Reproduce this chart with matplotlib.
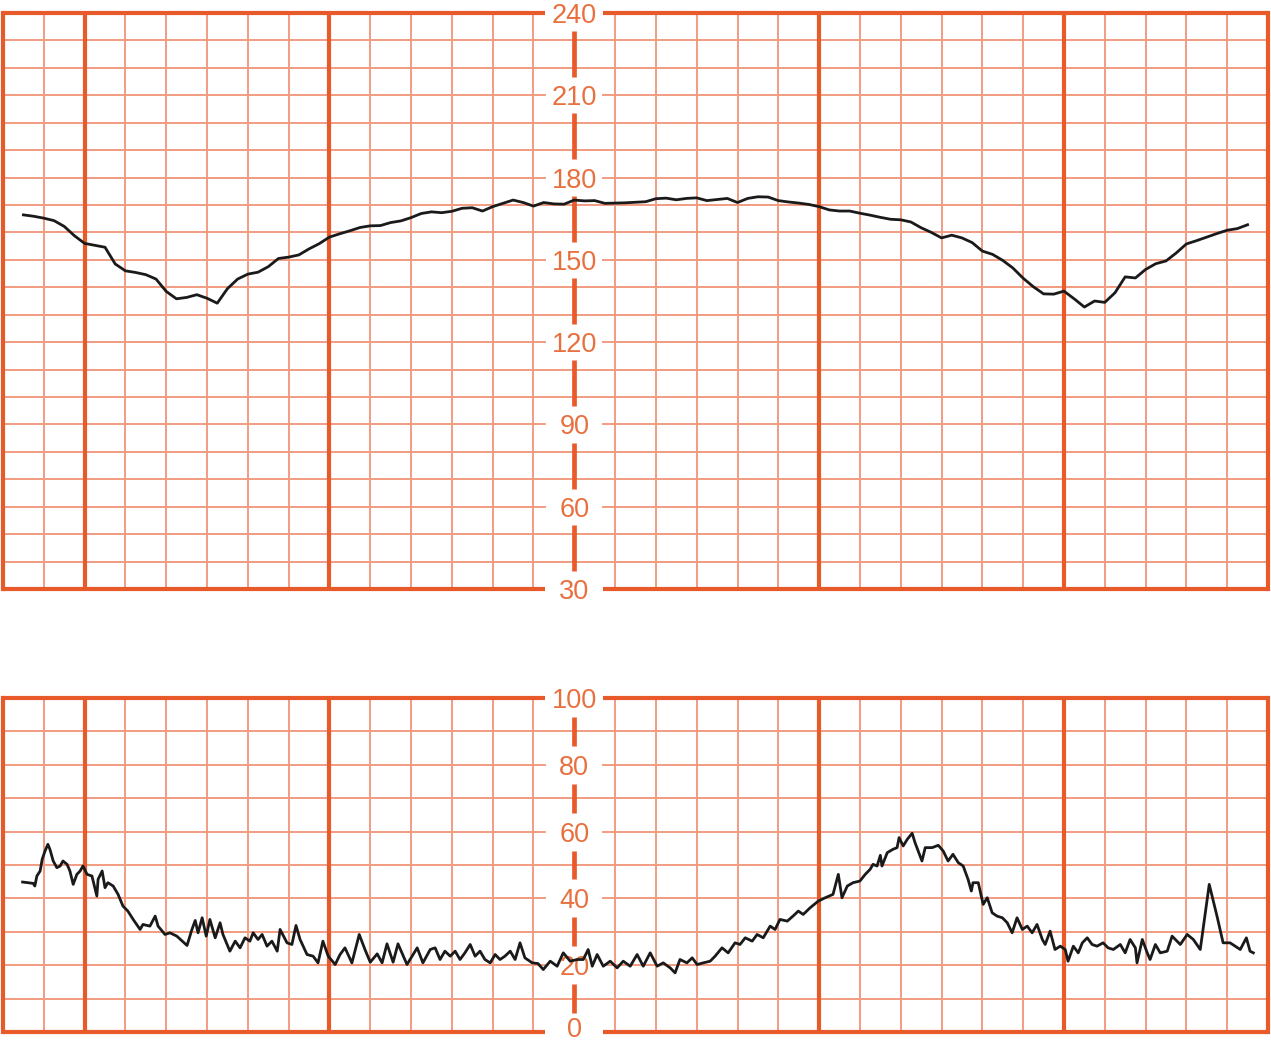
import numpy as np
import matplotlib
matplotlib.use("Agg")
import matplotlib.pyplot as plt

plt.rcParams['font.family'] = ['Liberation Sans', 'DejaVu Sans']

# paper: 10 s per small cell, 31 cells wide
t_max = 310
heavy_x = [20, 80, 200, 260]
label_x = 140
label_half_w = 7.1   # horizontal gap left around a scale label (s)

fhr_ticks = [30, 60, 90, 120, 150, 180, 210, 240]
uc_ticks = [0, 20, 40, 60, 80, 100]

# fetal heart rate (bpm), sampled every 2.5 s from t = 5 s
fhr_start, fhr_step = 5.0, 2.5
fhr = [166.4, 165.9, 165.2, 164.3, 162.2, 158.8, 156.0, 155.3, 154.6, 148.5,
       146.0, 145.4, 144.6, 143.0, 138.5, 135.8, 136.3, 137.3, 136.0, 134.2,
       139.5, 143.0, 144.8, 145.5, 147.5, 150.5, 151.0, 151.8, 154.0, 155.9,
       158.3, 159.5, 160.6, 161.8, 162.4, 162.5, 163.6, 164.2, 165.4, 166.9,
       167.5, 167.2, 167.7, 168.8, 169.0, 167.8, 169.4, 170.6, 171.8, 170.9,
       169.6, 170.9, 170.4, 170.3, 171.8, 171.5, 171.6, 170.6, 170.7, 170.8,
       171.0, 171.2, 172.3, 172.5, 171.9, 172.4, 172.6, 171.6, 172.0, 172.4,
       170.9, 172.4, 173.0, 172.9, 171.6, 171.1, 170.7, 170.2, 169.4, 168.2,
       167.8, 167.8, 167.0, 166.3, 165.5, 164.8, 164.6, 163.8, 161.7, 160.0,
       158.0, 159.0, 158.0, 156.3, 153.2, 152.0, 149.8, 147.0, 143.3, 140.2,
       137.6, 137.5, 138.6, 135.8, 132.8, 135.0, 134.5, 138.0, 143.8, 143.4,
       146.5, 148.6, 149.6, 152.5, 155.8, 157.0, 158.3, 159.6, 160.8, 161.4,
       162.8]

# uterine activity, time (s) and value
uc_t = [4.8, 6.1, 7.4, 7.8, 8.3, 9.1, 9.6, 10.3, 11.0, 11.5, 12.3, 13.2, 14.0,
        14.7, 15.7, 16.4, 17.2, 18.1, 18.9, 19.6, 20.6, 21.8, 23.0, 23.3, 24.3,
        25.0, 25.7, 27.0, 28.2, 29.4, 30.6, 31.9, 33.6, 34.3, 36.0, 37.3, 38.0,
        39.7, 40.9, 42.6, 45.1, 46.3, 47.1, 47.8, 48.8, 49.8, 50.7, 52.0, 53.2,
        53.9, 55.6, 56.9, 58.1, 59.3, 60.5, 61.3, 62.5, 63.5, 64.7, 65.9, 67.2,
        67.9, 69.6, 70.8, 71.8, 72.8, 74.5, 76.0, 77.2, 78.4, 79.7, 81.4, 82.6,
        83.8, 85.5, 87.3, 88.7, 90.0, 91.7, 92.9, 94.1, 95.6, 96.8, 99.0, 101.5,
        102.9, 104.7, 105.9, 107.1, 108.3, 109.6, 110.8, 112.0, 113.2, 114.5,
        115.7, 116.9, 118.1, 119.4, 120.6, 121.8, 123.0, 124.3, 125.5, 126.7,
        127.9, 129.7, 131.1, 132.4, 134.1, 135.8, 137.3, 139.0, 140.7, 142.2,
        143.4, 144.4, 145.6, 147.1, 148.8, 150.5, 152.0, 153.7, 155.4, 156.9,
        158.6, 160.3, 161.8, 163.5, 164.7, 165.9, 167.6, 168.9, 170.1, 171.6,
        173.3, 174.5, 176.2, 177.7, 179.4, 180.6, 181.9, 183.6, 184.8, 186.3,
        188.0, 189.2, 190.4, 192.2, 193.6, 194.9, 196.1, 197.8, 199.8, 201.5,
        203.4, 204.7, 205.6, 206.9, 208.3, 210.0, 211.3, 212.5, 213.2, 214.2,
        215.0, 215.4, 216.7, 218.1, 219.1, 219.6, 220.6, 221.6, 222.8, 223.5,
        225.2, 226.0, 227.7, 229.2, 230.4, 231.6, 232.8, 234.1, 235.3, 236.5,
        237.3, 237.7, 239.0, 240.2, 241.2, 242.4, 243.6, 244.9, 246.1, 247.3,
        248.5, 249.8, 251.0, 252.2, 253.4, 254.7, 255.4, 256.6, 257.8, 259.1,
        260.3, 261.0, 262.3, 263.5, 264.5, 265.7, 266.9, 268.1, 269.6, 270.8,
        272.1, 273.8, 275.0, 276.2, 277.5, 277.9, 279.2, 280.4, 281.1, 282.4,
        283.6, 285.3, 286.5, 287.7, 288.5, 290.2, 291.7, 293.4, 295.6, 297.5,
        299.0, 300.7, 303.2, 304.7, 305.6, 306.4]
uc = [44.9, 44.7, 44.5, 43.7, 46.7, 48.2, 51.7, 54.2, 56.2, 54.7, 51.2, 49.2,
      49.7, 51.2, 50.2, 48.2, 44.2, 47.2, 48.2, 49.7, 47.2, 46.7, 40.7, 45.7,
      48.2, 43.2, 44.7, 43.7, 41.2, 37.7, 36.2, 33.7, 30.7, 32.2, 31.7, 34.7,
      31.7, 29.2, 29.7, 28.7, 25.9, 30.7, 33.4, 29.7, 34.2, 28.7, 33.7, 28.2,
      32.7, 29.2, 24.2, 27.2, 25.2, 28.2, 27.2, 29.7, 27.7, 29.2, 25.7, 27.2,
      24.2, 30.7, 26.7, 26.2, 31.9, 27.7, 23.2, 22.7, 20.7, 27.2, 22.7, 20.2,
      23.2, 25.2, 20.7, 29.2, 24.7, 20.9, 23.4, 20.7, 26.4, 20.9, 26.4, 20.2,
      25.2, 20.7, 24.7, 25.2, 21.7, 24.2, 22.7, 24.2, 21.7, 23.7, 26.2, 22.7,
      24.2, 21.7, 20.7, 23.2, 21.7, 22.7, 24.2, 21.7, 26.7, 22.2, 20.7, 20.5,
      18.7, 21.2, 19.7, 23.7, 21.2, 21.7, 21.7, 24.7, 19.7, 23.2, 19.7, 21.2,
      19.2, 21.2, 19.7, 23.2, 19.7, 23.7, 19.7, 20.7, 19.2, 17.7, 21.7, 20.7,
      22.2, 20.2, 20.7, 21.2, 22.7, 25.2, 23.7, 26.7, 26.2, 28.2, 27.2, 29.2,
      28.2, 31.7, 30.7, 33.7, 33.2, 34.7, 36.2, 35.2, 37.2, 39.2, 40.2, 41.2,
      47.2, 40.2, 43.7, 44.7, 45.2, 47.2, 48.7, 50.2, 49.7, 52.9, 49.7, 53.7,
      54.7, 55.2, 58.2, 55.7, 57.7, 59.5, 56.7, 51.2, 55.2, 55.2, 55.9, 54.2,
      51.2, 53.2, 50.7, 49.7, 45.7, 42.2, 44.7, 44.7, 38.2, 40.2, 35.7, 34.7,
      34.2, 32.7, 29.7, 34.2, 30.7, 31.7, 29.7, 32.2, 27.7, 26.2, 30.2, 24.7,
      25.7, 24.7, 21.2, 25.7, 23.7, 26.7, 28.2, 26.2, 25.7, 26.7, 25.2, 24.7,
      26.2, 23.7, 27.7, 25.2, 20.7, 27.7, 23.7, 21.7, 26.2, 23.7, 24.2, 28.7,
      27.2, 26.2, 29.2, 27.7, 24.7, 44.2, 34.7, 26.7, 26.7, 24.7, 28.2, 24.2,
      23.7]

HEAVY = '#E85A2A'
LIGHT = '#F29C82'
TEXT = '#E8703F'


def hline(ax, y, ticks, **kw):
    # horizontal rule, broken around the scale label if there is one
    if y in ticks:
        ax.plot([0, label_x - label_half_w], [y, y], **kw)
        ax.plot([label_x + label_half_w, t_max], [y, y], **kw)
    else:
        ax.plot([0, t_max], [y, y], **kw)


def paper(ax, ymin, ymax, minor, ticks, gap, bottom_lift=0.0):
    ax.set_xlim(0, t_max)
    ax.set_ylim(ymin, ymax)
    for s in ax.spines.values():
        s.set_visible(False)
    ax.set_xticks([])
    ax.set_yticks([])

    for y in range(ymin + minor, ymax, minor):
        hline(ax, y, ticks, color=LIGHT, lw=1.4, zorder=1)
    for x in range(10, t_max, 10):
        if x in heavy_x or x == label_x:
            continue
        ax.axvline(x, color=LIGHT, lw=1.4, zorder=1)
    for x in heavy_x:
        ax.axvline(x, color=HEAVY, lw=3.0, zorder=2)

    # outer frame
    ax.axvline(0, color=HEAVY, lw=3.0, zorder=2, clip_on=False)
    ax.axvline(t_max, color=HEAVY, lw=3.0, zorder=2, clip_on=False)
    hline(ax, ymin, ticks, color=HEAVY, lw=3.0, zorder=2, clip_on=False,
          solid_capstyle='butt')
    hline(ax, ymax, ticks, color=HEAVY, lw=3.0, zorder=2, clip_on=False,
          solid_capstyle='butt')

    # dashed scale bar between labels
    for lo, hi in zip(ticks[:-1], ticks[1:]):
        ax.plot([label_x, label_x], [lo + gap, hi - gap], color=HEAVY,
                lw=3.4, solid_capstyle='butt', zorder=2)
    for v in ticks:
        ty = v + bottom_lift if v == ymin else v
        ax.text(label_x, ty, str(v), ha='center', va='center_baseline',
                fontsize=19.5, color=TEXT, zorder=3)


fig = plt.figure(figsize=(12.71, 10.44), dpi=100)
ax1 = fig.add_axes([3 / 1271, 1 - 589 / 1044, 1265 / 1271, 576 / 1044])
ax2 = fig.add_axes([3 / 1271, 12 / 1044, 1265 / 1271, 334 / 1044])

paper(ax1, 30, 240, 10, fhr_ticks, 6.6)
paper(ax2, 0, 100, 10, uc_ticks, 5.7, bottom_lift=1.6)

fhr_t = fhr_start + fhr_step * np.arange(len(fhr))
ax1.plot(fhr_t, fhr, color='#1a1a1a', lw=2.0, zorder=4)
ax2.plot(uc_t, uc, color='#1a1a1a', lw=2.0, zorder=4)

fig.savefig("out.png", dpi=100)
